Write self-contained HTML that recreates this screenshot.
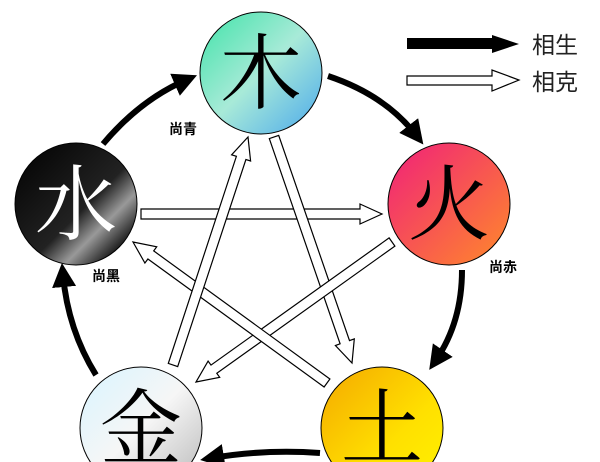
<!DOCTYPE html>
<html><head><meta charset="utf-8"><style>
html,body{margin:0;padding:0;background:#fff;width:600px;height:462px;overflow:hidden}
svg{display:block}
</style></head><body>
<svg id="s" width="600" height="462" viewBox="0 0 600 462" xmlns="http://www.w3.org/2000/svg">
<defs>
<linearGradient id="gm" x1="0" y1="0" x2="1" y2="1"><stop offset="0" stop-color="#3fe3a8"/><stop offset="0.5" stop-color="#a8ead8"/><stop offset="1" stop-color="#4aa8ec"/></linearGradient>
<linearGradient id="gh" x1="0" y1="0" x2="1" y2="1"><stop offset="0" stop-color="#f0207a"/><stop offset="1" stop-color="#ff8a2a"/></linearGradient>
<linearGradient id="gs" x1="0" y1="0" x2="1" y2="1"><stop offset="0" stop-color="#000"/><stop offset="0.55" stop-color="#222"/><stop offset="0.7" stop-color="#999"/><stop offset="0.85" stop-color="#222"/><stop offset="1" stop-color="#000"/></linearGradient>
<linearGradient id="gj" x1="0" y1="0" x2="1" y2="1"><stop offset="0" stop-color="#d8f4ff"/><stop offset="0.5" stop-color="#f6f6f6"/><stop offset="1" stop-color="#b8b8b8"/></linearGradient>
<linearGradient id="gt" x1="0" y1="0" x2="1" y2="1"><stop offset="0" stop-color="#f4a800"/><stop offset="0.6" stop-color="#ffe000"/><stop offset="1" stop-color="#fff200"/></linearGradient>
<marker id="ah" viewBox="0 0 10 10" refX="5" refY="5" markerWidth="4" markerHeight="4" orient="auto"><path d="M0,0 L10,5 L0,10 z" fill="#000"/></marker>
</defs>
<g fill="none" stroke="#000" stroke-width="6" marker-end="url(#ah)">
<path d="M328,76 Q385,95 416,135"/>
<path d="M462,270 Q462,322 436,360"/>
<path d="M320,453 Q265,449 212,458"/>
<path d="M96,375 Q68,330 63,275"/>
<path d="M103,144 Q140,100 186,80"/>
</g>
<g id="hol" fill="#fff" stroke="#000" stroke-width="1.2"></g>
<circle cx="261" cy="73" r="61" fill="url(#gm)" stroke="#000" stroke-width="1"/>
<circle cx="449" cy="204" r="61" fill="url(#gh)" stroke="#000" stroke-width="1"/>
<circle cx="76" cy="204" r="61" fill="url(#gs)" stroke="#000" stroke-width="1"/>
<circle cx="141" cy="428" r="61" fill="url(#gj)" stroke="#000" stroke-width="1"/>
<circle cx="382" cy="428" r="61" fill="url(#gt)" stroke="#000" stroke-width="1"/>
<g font-family="'Noto Serif CJK SC','Noto Sans CJK SC',serif" font-size="82" text-anchor="middle">
<text x="261" y="102">木</text>
<text x="449" y="233">火</text>
<text x="76" y="233" fill="#fff">水</text>
<text x="141" y="457">金</text>
<text x="382" y="457">土</text>
</g>
<g font-family="'Liberation Sans','Noto Sans CJK SC',sans-serif" font-size="14" font-weight="bold">
<text x="169" y="134">尚青</text>
<text x="489" y="272">尚赤</text>
<text x="92" y="281">尚黑</text>
</g>
<path d="M407,38 L492,38 L492,35 L519,44 L492,53 L492,49 L407,49 z" fill="#000"/>
<path d="M407,76 L492,76 L492,70 L519,80 L492,91 L492,85 L407,85 z" fill="#fff" stroke="#000" stroke-width="1.2"/>
<g font-family="'Liberation Sans','Noto Sans CJK SC',sans-serif" font-size="23" fill="#222">
<text x="532" y="53">相生</text>
<text x="532" y="90">相克</text>
</g>
</svg>
<script>
var A=[[141,214,382,214],[274,137,352,363],[392,242,196,382],[327,383,133,242],[173,365,248,137]];
var g=document.getElementById('hol'),o='';
A.forEach(function(a){var dx=a[2]-a[0],dy=a[3]-a[1],L=Math.hypot(dx,dy),ux=dx/L,uy=dy/L,nx=-uy,ny=ux,w=5,hw=10,hl=22;
var bx=a[2]-ux*hl,by=a[3]-uy*hl;
var p=[[a[0]+nx*w,a[1]+ny*w],[bx+nx*w,by+ny*w],[bx+nx*hw,by+ny*hw],[a[2],a[3]],[bx-nx*hw,by-ny*hw],[bx-nx*w,by-ny*w],[a[0]-nx*w,a[1]-ny*w]];
o+='<polygon points="'+p.map(function(q){return q[0].toFixed(1)+','+q[1].toFixed(1)}).join(' ')+'"/>';});
g.innerHTML=o;
</script>
</body></html>
